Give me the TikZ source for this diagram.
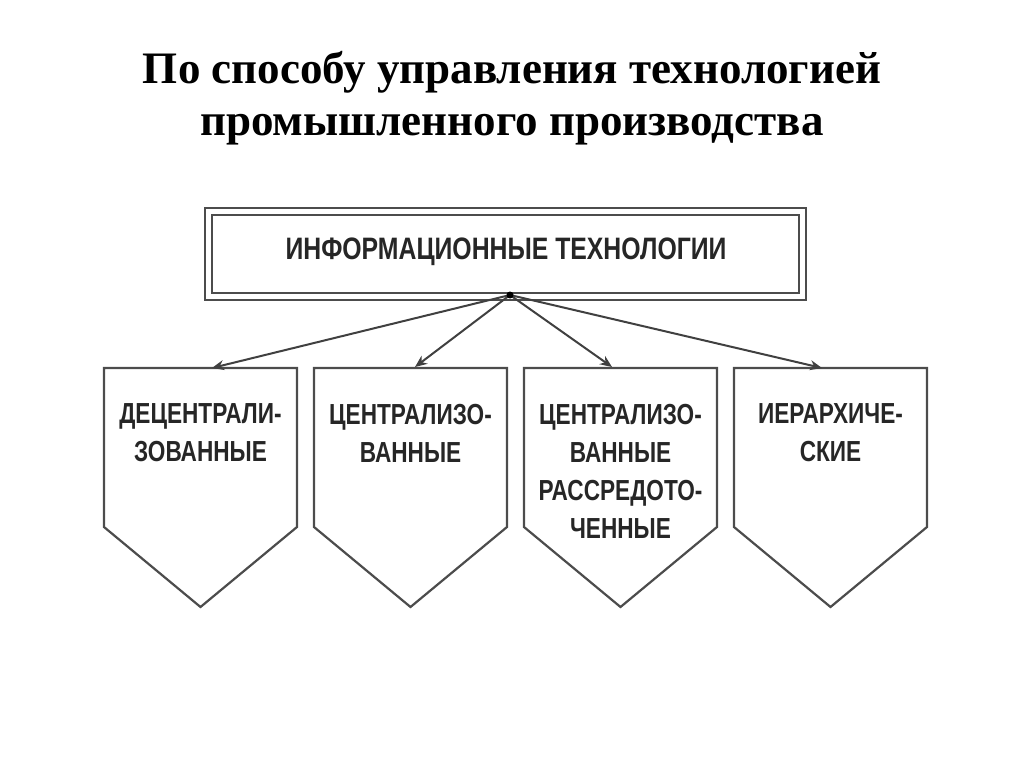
\documentclass[tikz,border=0pt]{standalone}
\usepackage{fontspec}
\usetikzlibrary{arrows.meta}
\setmainfont{Liberation Serif}
\newfontfamily\boxfont{Liberation Sans}
\begin{document}
\begin{tikzpicture}[x=1pt,y=-1pt,
  pent/.style={draw=black!70,line width=2.2pt,line join=miter},
  lbl/.style={font=\boxfont\bfseries\fontsize{29}{38}\selectfont,align=center,text=black!85,xscale=0.78},
  arr/.style={draw=black!75,line width=2pt,-{Stealth[length=12pt,width=10pt]}}]
\useasboundingbox (0,0) rectangle (1024,767);
\node[font=\bfseries\fontsize{45}{52}\selectfont,align=center] (title) at (512,98) {По способу управления технологией\\промышленного производства};
\draw[black!70,line width=2.5pt] (205,208) rectangle (806,300);
\draw[black!70,line width=1.8pt] (212,215) rectangle (799,293);
\node[font=\boxfont\bfseries\fontsize{31}{34}\selectfont,text=black!85,xscale=0.8] (top) at (506,252) {ИНФОРМАЦИОННЫЕ ТЕХНОЛОГИИ};
\coordinate (o) at (510,295);
\foreach \n/\x/\t/\ty in {a/104/{ДЕЦЕНТРАЛИ-\\ЗОВАННЫЕ}/433, b/314/{ЦЕНТРАЛИЗО-\\ВАННЫЕ}/433, c/524/{ЦЕНТРАЛИЗО-\\ВАННЫЕ\\РАССРЕДОТО-\\ЧЕННЫЕ}/471, d/734/{ИЕРАРХИЧЕ-\\СКИЕ}/433}{
  \draw[pent] (\x,368) -- (\x+193,368) -- (\x+193,527) -- (\x+96.5,607) -- (\x,527) -- cycle;
  \coordinate (\n) at (\x+96.5,368);
  \node[lbl] (\n t) at (\x+96.5,\ty) {\t};
}
\draw[arr] (o) -- (212,368);
\draw[arr] (o) -- (415,367);
\draw[arr] (o) -- (612,367);
\draw[arr] (o) -- (822,368);
\fill[black] (o) circle (3.5pt);
\end{tikzpicture}
\end{document}
